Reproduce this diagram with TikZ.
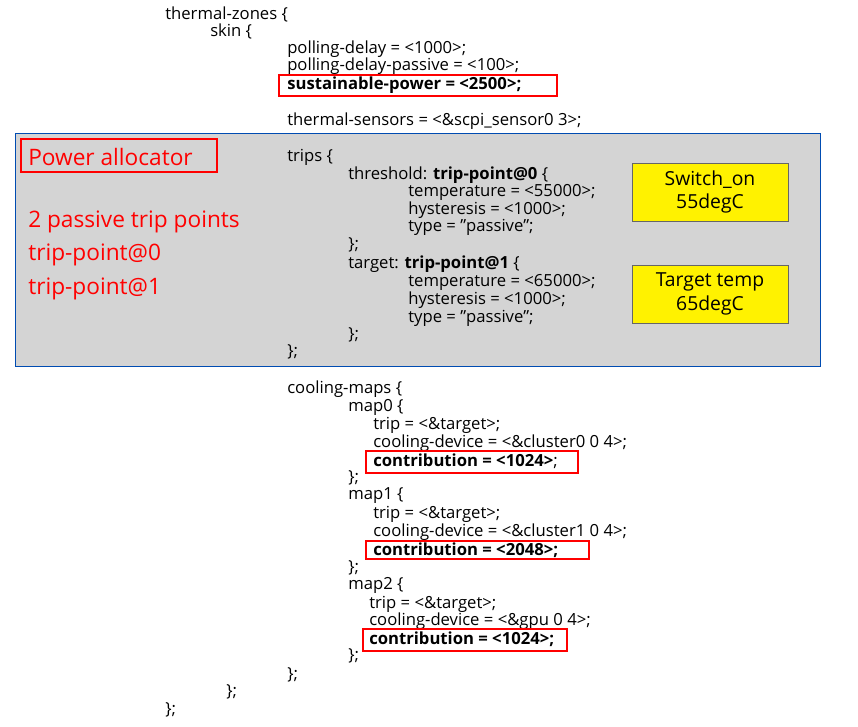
\documentclass[tikz,border=0pt]{standalone}
\usepackage{fontspec}
\setmainfont{Open Sans}
\newcommand{\qq}{\symbol{34}}
\begin{document}
\begin{tikzpicture}[x=0.75pt,y=-0.75pt,
  t/.style={anchor=west,inner sep=0pt,font=\fontsize{12.5}{14}\selectfont},
  rt/.style={anchor=west,inner sep=0pt,text=red,font=\fontsize{17}{20}\selectfont},
  rb/.style={draw=red,line width=1pt},
  yb/.style={draw=black!60,fill=yellow,line width=0.5pt,align=center,font=\fontsize{14.5}{17.5}\selectfont,inner sep=0pt}]
\useasboundingbox (0,0) rectangle (858,727);
\fill[white] (0,0) rectangle (858,727);
\draw[fill=black!17,draw=teal!60!blue] (15,133) rectangle (820,366);
\node[t] (l1) at (165,14) {thermal-zones \{};
\node[t] (l2) at (210,31) {skin \{};
\node[t] (l3) at (287,49) {polling-delay = <1000>;};
\node[t] (l4) at (287,66) {polling-delay-passive = <100>;};
\node[t] (l5) at (287,85) {\textbf{sustainable-power = <2500>;}};
\draw[rb] (279,75) rectangle (557,96);
\node[t] (l6) at (287,121) {thermal-sensors = <\&scpi\_sensor0 3>;};
\draw[rb] (21,139) rectangle (217,172);
\node[rt] (pa) at (28,157) {Power allocator};
\node[rt] (r1) at (28,222) {2 passive trip points};
\node[rt] (r2) at (28,255) {trip-point@0};
\node[rt] (r3) at (28,289) {trip-point@1};
\node[t] (a1) at (287,157) {trips \{};
\node[t] (a2) at (348,175) {threshold: \textbf{trip-point@0} \{};
\node[t] (a3) at (408,192) {temperature = <55000>;};
\node[t] (a4) at (408,210) {hysteresis = <1000>;};
\node[t] (a5) at (408,227) {type = \qq passive\qq;};
\node[t] (a6) at (348,245) {\};};
\node[t] (a7) at (348,264) {target: \textbf{trip-point@1} \{};
\node[t] (a8) at (408,282) {temperature = <65000>;};
\node[t] (a9) at (408,300) {hysteresis = <1000>;};
\node[t] (a10) at (408,318) {type = \qq passive\qq;};
\node[t] (a11) at (348,335) {\};};
\node[t] (a12) at (287,352) {\};};
\node[yb,minimum width=156pt*0.75,minimum height=58*0.75pt] (y1) at (710,192) {Switch\_on\\55degC};
\node[yb,minimum width=156pt*0.75,minimum height=58*0.75pt] (y2) at (710,294) {Target temp\\65degC};
\node[t] (c1) at (287,389) {cooling-maps \{};
\node[t] (c2) at (348,407) {map0 \{};
\node[t] (c3) at (373,425) {trip = <\&target>;};
\node[t] (c4) at (373,443) {cooling-device = <\&cluster0 0 4>;};
\node[t] (c5) at (373,461) {\textbf{contribution = <1024>};};
\draw[rb] (366,451) rectangle (578,473);
\node[t] (c6) at (348,478) {\};};
\node[t] (c7) at (348,496) {map1 \{};
\node[t] (c8) at (373,514) {trip = <\&target>;};
\node[t] (c9) at (373,532) {cooling-device = <\&cluster1 0 4>;};
\node[t] (c10) at (373,550) {\textbf{contribution = <2048>;}};
\draw[rb] (366,541) rectangle (589,559);
\node[t] (c11) at (348,568) {\};};
\node[t] (c12) at (348,585) {map2 \{};
\node[t] (c13) at (369,604) {trip = <\&target>;};
\node[t] (c14) at (369,621) {cooling-device = <\&gpu 0 4>;};
\node[t] (c15) at (369,639) {\textbf{contribution = <1024>;}};
\draw[rb] (363,629) rectangle (567,651);
\node[t] (c16) at (348,656) {\};};
\node[t] (c17) at (287,675) {\};};
\node[t] (c18) at (226,692) {\};};
\node[t] (c19) at (165,710) {\};};
\end{tikzpicture}
\end{document}
